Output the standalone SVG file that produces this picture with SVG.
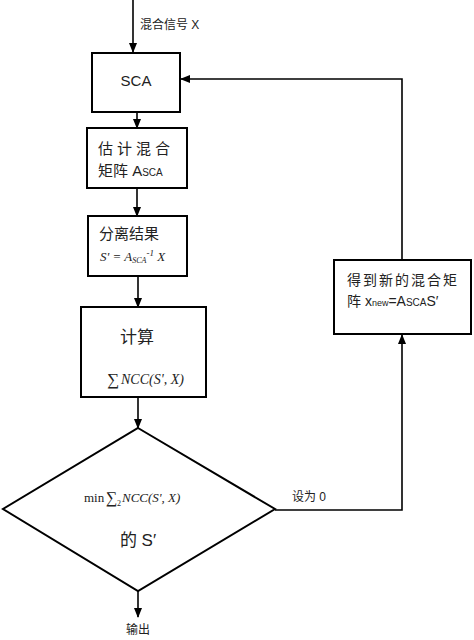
<svg xmlns="http://www.w3.org/2000/svg" width="474" height="640" viewBox="0 0 474 640">
<style>
.box{fill:#fff;stroke:#000;stroke-width:2}
.ln{fill:none;stroke:#000;stroke-width:1.6}
.cn{font-family:"Liberation Sans","Noto Sans CJK SC",sans-serif;fill:#222}
.m{font-family:"Liberation Serif","Noto Sans CJK SC",serif;font-style:italic;fill:#222}
.r{font-family:"Liberation Serif",serif;fill:#222}
</style>
<defs>
<marker id="ah" markerWidth="10" markerHeight="10" refX="9" refY="5" orient="auto" markerUnits="userSpaceOnUse">
<path d="M0,1 L10,5 L0,9 Z" fill="#000"/>
</marker>
</defs>
<g id="connectors">
<line class="ln" x1="133" y1="0" x2="133" y2="52" marker-end="url(#ah)"/>
<line class="ln" x1="137" y1="112" x2="137" y2="128" marker-end="url(#ah)"/>
<line class="ln" x1="137" y1="188" x2="137" y2="216" marker-end="url(#ah)"/>
<line class="ln" x1="138" y1="276" x2="138" y2="307" marker-end="url(#ah)"/>
<line class="ln" x1="138" y1="397" x2="138" y2="428" marker-end="url(#ah)"/>
<line class="ln" x1="138" y1="591" x2="138" y2="617" marker-end="url(#ah)"/>
<polyline class="ln" points="275,510 402,510 402,335" marker-end="url(#ah)"/>
<polyline class="ln" points="402,260 402,79 181,79" marker-end="url(#ah)"/>
<text class="cn" x="140" y="29" font-size="12">混合信号 X</text>
<text class="cn" x="292" y="501" font-size="12">设为 0</text>
<text class="cn" x="138" y="634" font-size="12" text-anchor="middle">输出</text>
</g>
<g id="sca">
<rect class="box" x="92" y="53" width="88" height="59"/>
<text class="cn" x="136" y="86" font-size="15" text-anchor="middle">SCA</text>
</g>
<g id="estimate">
<rect class="box" x="87" y="128" width="100" height="60"/>
<text class="cn" x="98" y="154" font-size="15" letter-spacing="4">估计混合</text>
<text class="cn" x="98" y="176" font-size="15">矩阵 A<tspan font-size="10">SCA</tspan></text>
</g>
<g id="separate">
<rect class="box" x="88" y="216" width="99" height="60"/>
<text class="cn" x="99" y="239" font-size="15">分离结果</text>
<text class="m" x="100" y="261" font-size="13">S' = A<tspan font-size="8" dy="2">SCA</tspan><tspan font-size="9" dy="-7">-1</tspan><tspan dy="5"> X</tspan></text>
</g>
<g id="compute">
<rect class="box" x="81" y="307" width="125" height="90"/>
<text class="cn" x="137" y="343" font-size="17" text-anchor="middle">计算</text>
<text class="r" x="107" y="385" font-size="17">∑</text>
<text class="m" x="121" y="384" font-size="14">NCC(S', X)</text>
</g>
<g id="decision">
<polygon class="box" points="138,428 275,509 138,591 3,509"/>
<text class="r" x="84" y="502" font-size="13">min</text>
<text class="r" x="106" y="503" font-size="16">∑</text>
<text class="r" x="117" y="506" font-size="8">2</text>
<text class="m" x="122" y="502" font-size="13">NCC(S', X)</text>
<text class="cn" x="138" y="546" font-size="17" text-anchor="middle">的 S′</text>
</g>
<g id="newmix">
<rect class="box" x="334" y="260" width="137" height="74"/>
<text class="cn" x="347" y="285" font-size="14" letter-spacing="2">得到新的混合矩</text>
<text class="cn" x="347" y="306" font-size="14">阵 x<tspan font-size="9">new</tspan>=A<tspan font-size="10">SCA</tspan>S′</text>
</g>
</svg>
